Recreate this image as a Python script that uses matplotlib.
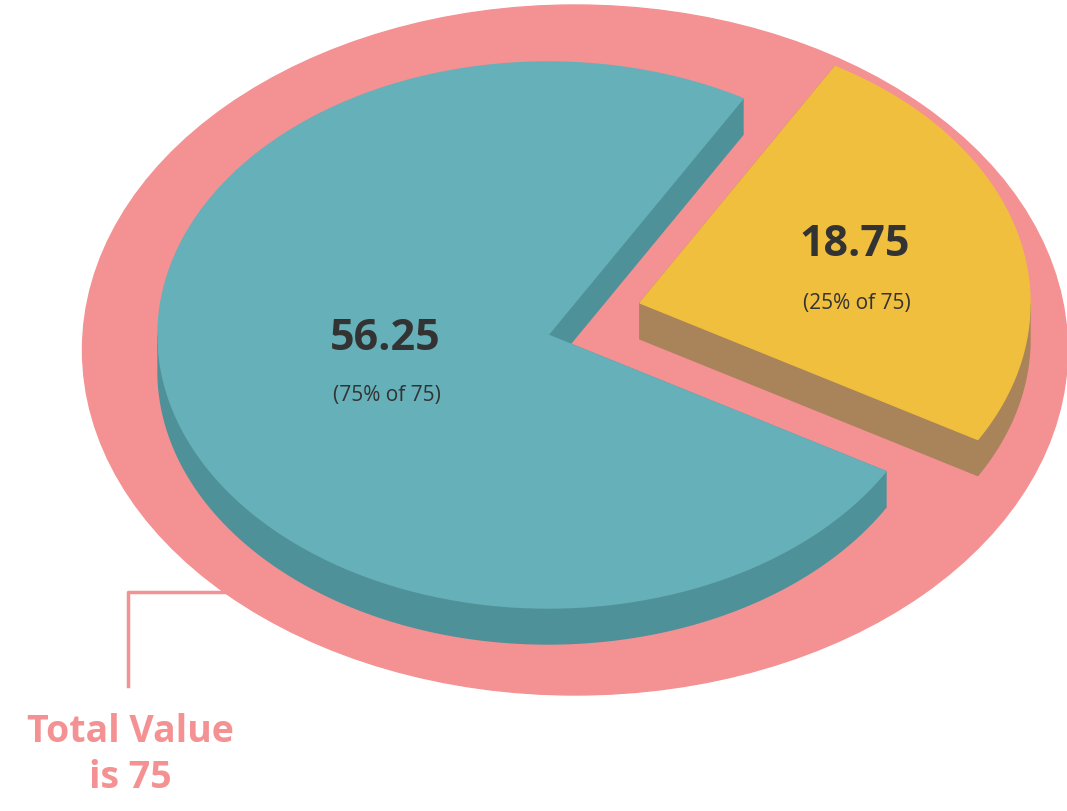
import numpy as np
import matplotlib.pyplot as plt
from matplotlib.patches import Ellipse, Polygon

labels = ["56.25", "18.75"]
values = [56.25, 18.75]
total = 75
top_colors = ["#66b0b9", "#f1bf3e"]
side_colors = ["#4f9199", "#a9835a"]
offsets = [(0, 0), (92, -32)]   # explode offset of each slice, pixels
text_pos = [(385, 338), (855, 245)]

cx, cy, rx, ry, depth = 548, 335, 390, 273, 36
start = 60.0


def pt(a, ox, oy, dz=0):
    r = np.radians(a)
    return cx + ox + rx * np.cos(r), cy + oy - ry * np.sin(r) + dz


def main():
    fig = plt.figure(figsize=(10.67, 8.11), dpi=100)
    ax = fig.add_axes([0, 0, 1, 1])
    ax.set_xlim(0, 1067)
    ax.set_ylim(811, 0)
    ax.axis("off")

    ax.add_patch(Ellipse((575, 350), 985, 690, color="#f49193", zorder=1))

    a0 = start
    for i, v in enumerate(values):
        span = 360 * v / total
        ang = np.linspace(a0, a0 + span, 300)
        ox, oy = offsets[i]
        # side wall of the visible lower half
        front = [a for a in ang if np.sin(np.radians(a)) <= 0]
        if front:
            top = [pt(a, ox, oy) for a in front]
            bot = [pt(a, ox, oy, depth) for a in front[::-1]]
            ax.add_patch(Polygon(top + bot, closed=True, color=side_colors[i], zorder=2))
        # cut face at the end angles that face the viewer
        for ea in (a0, a0 + span):
            p = pt(ea, ox, oy)
            c = (cx + ox, cy + oy)
            ax.add_patch(Polygon([c, p, (p[0], p[1] + depth), (c[0], c[1] + depth)],
                                 closed=True, color=side_colors[i], zorder=2))
        pts = [(cx + ox, cy + oy)] + [pt(a, ox, oy) for a in ang]
        ax.add_patch(Polygon(pts, closed=True, color=top_colors[i], zorder=3))
        tx, ty = text_pos[i]
        ax.text(tx, ty, labels[i], ha="center", va="center", fontsize=31,
                fontweight="bold", color="#333333", family="Open Sans", zorder=4)
        ax.text(tx + 2, ty + 58, "(%d%% of %d)" % (round(100 * v / total), total),
                ha="center", va="center", fontsize=15, color="#333333",
                family="Open Sans", zorder=4)
        a0 += span

    ax.plot([225, 128, 128], [592, 592, 686], color="#f49193", lw=2.5, zorder=4)
    ax.text(130, 755, "Total Value\nis " + str(total), ha="center", va="center",
            fontsize=27, fontweight="bold", color="#f49193", family="Open Sans",
            linespacing=1.25, zorder=4)

    fig.savefig("out.png", dpi=100)


if __name__ == '__main__':
    main()
